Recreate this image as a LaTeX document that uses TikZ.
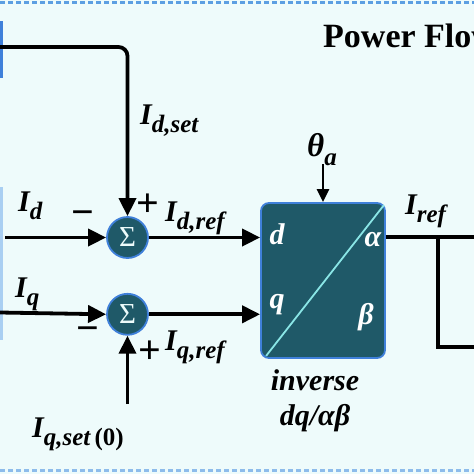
\documentclass[tikz,border=0pt]{standalone}
\usepackage{fontspec}
\setmainfont{Liberation Serif}
\usetikzlibrary{arrows.meta,positioning}

\definecolor{bgcyan}{HTML}{EEFBFB}
\definecolor{boxteal}{HTML}{1F5968}
\definecolor{rimblue}{HTML}{3F80DA}
\definecolor{diagcyan}{HTML}{8AE6E6}
\definecolor{dashblue}{HTML}{5C9FE2}
\definecolor{barlight}{HTML}{A9CFF2}

\newcommand{\sigl}[2]{#1\raisebox{-0.28em}{\fontsize{25}{25}\selectfont #2}}

\tikzset{
  sig/.style={line width=3.8pt, -{Triangle[length=18pt,width=17pt]}},
  wire/.style={line width=3.8pt},
  sumnode/.style={circle, fill=boxteal, draw=rimblue, line width=1.8pt,
    minimum size=41pt, inner sep=0pt, text=white!85!diagcyan,
    font=\fontsize{29}{29}\selectfont},
  convbox/.style={rectangle, rounded corners=8pt, fill=boxteal, draw=rimblue,
    line width=1.8pt, minimum width=124pt, minimum height=155pt},
  lbl/.style={font=\fontsize{30}{32}\selectfont\bfseries\itshape, inner sep=0pt},
  inlbl/.style={lbl, text=white},
  sign/.style={font=\fontsize{40}{40}\selectfont\bfseries, inner sep=0pt},
}

\begin{document}
\begin{tikzpicture}[x=1pt,y=-1pt,node distance=34pt]
  \useasboundingbox (0,0) rectangle (474,474);
  \clip (0,0) rectangle (474,474);
  \fill[bgcyan] (0,0) rectangle (474,474);
  % frame bits
  \draw[dashblue, line width=3pt, dash pattern=on 5pt off 3pt] (0,2) -- (474,2);
  \draw[dashblue!70, line width=3pt, dash pattern=on 5pt off 3pt] (0,470) -- (474,470);
  \fill[rimblue] (0,21) rectangle (3,78);
  \fill[barlight] (0,187) rectangle (2.5,340);

  \node[lbl, font=\fontsize{34}{34}\selectfont\bfseries, anchor=base west] (title) at (323,47) {Power Flow};

  % summing points and transform block
  \node[sumnode] (sumd) at (127.5,237.5) {Σ};
  \node[sumnode] (sumq) [below=of sumd] {Σ};
  \node[convbox] (conv) at (323,280.5) {};
  \draw[diagcyan, line width=1.8pt] ([shift={(-2,3)}]conv.north east) -- ([shift={(6,-3)}]conv.south west);

  \coordinate (setsrc) at (0,47);
  \coordinate (idsrc) at (5,237.5);
  \coordinate (iqsrc) at (0,312.5);
  \coordinate (iqsetsrc) at (127.5,404);
  \coordinate (thsrc) at (323,164);
  \coordinate (tap) at (438,237);
  \coordinate (outend) at (474,237);
  \coordinate (tapend) at (474,347);

  \draw[sig, rounded corners=9pt] (setsrc) -| (sumd.north);
  \draw[sig] (idsrc) -- (sumd.west);
  \draw[sig] (iqsrc) -- (sumq.west);
  \draw[sig] (iqsetsrc) -- (sumq.south);
  \draw[sig] (sumd.east) -- (sumd.east -| conv.west);
  \draw[sig] (sumq.east) -- (sumq.east -| conv.west);
  \draw[line width=2.8pt, -{Triangle[length=13pt,width=12pt]}] (thsrc) -- (conv.north);
  \draw[wire] (conv.east |- outend) -- (outend);
  \draw[wire] (tap) |- (tapend);

  % signal names
  \node[lbl, anchor=base west] (idsetlab) at (140,124) {\sigl{I}{d,set}};
  \node[lbl, anchor=base west] (idlab) at (18,211) {\sigl{I}{d}};
  \node[lbl, anchor=base west] (iqlab) at (15,297) {\sigl{I}{q}};
  \node[lbl, anchor=base west] (idreflab) at (165,221) {\sigl{I}{d,ref}};
  \node[lbl, anchor=base west] (iqreflab) at (165,350) {\sigl{I}{q,ref}};
  \node[lbl, anchor=base west] (iqsetlab) at (32,437) {\sigl{I}{q,set\,{\upshape(0)}}};
  \node[lbl, anchor=base west] (ireflab) at (405,214) {\sigl{I}{ref}};
  \node[lbl, font=\fontsize{33}{33}\selectfont\bfseries\itshape, anchor=base west] (thlab) at (307,156) {\sigl{θ}{a}};

  \node[sign] (dminus) at (83,218) {−};
  \node[sign] (dplus) at (148,205) {+};
  \node[sign] (qminus) at (88,334) {−};
  \node[sign] (qplus) at (150,352) {+};

  % block texts
  \node[inlbl] (din) at (277,234) {d};
  \node[inlbl] (alphaout) at (373,240) {α};
  \node[inlbl] (qin) at (277,305) {q};
  \node[inlbl] (betaout) at (366,317) {β};
  \node[lbl] (convname) at (315,380) {inverse};
  \node[lbl] (convname2) at (315,418) {dq/αβ};
\end{tikzpicture}
\end{document}
